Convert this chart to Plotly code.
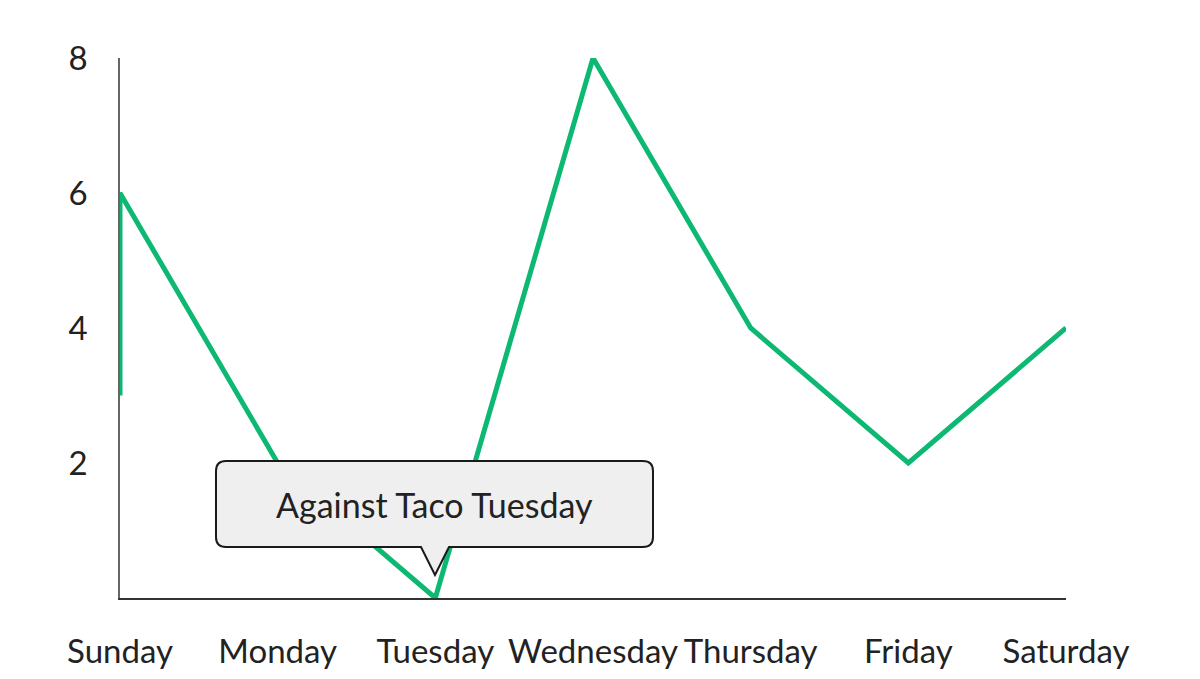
import plotly.graph_objects as go

# datos
days = ["Sunday", "Monday", "Tuesday", "Wednesday", "Thursday", "Friday", "Saturday"]
x_points = ["Sunday", "Sunday", "Monday", "Tuesday", "Wednesday", "Thursday", "Friday", "Saturday"]
y_points = [3, 6, 2, 0, 8, 4, 2, 4]
y_ticks = [2, 4, 6, 8]
note_text = "Against Taco Tuesday"

# la pagina tiene 8px de margen en el body
OFF = 8
W, H = 1200 - OFF, 679 - OFF
L, R, T, B = 120 - OFF, 134, 58 - OFF, 81
FONT = "Lato, Open Sans, sans-serif"


def px(x):
    return (x - OFF - L) / (W - L - R)


def py(y):
    return (OFF + H - B - y) / (H - T - B)


# callout con esquinas redondeadas y pico hacia abajo
x0, x1, y0, y1, r = 216, 653, 461, 547, 10
tip_x, tip_y, half = 435, 575, 14
pts = [
    ("M", x0 + r, y0), ("L", x1 - r, y0), ("Q", x1, y0, x1, y0 + r),
    ("L", x1, y1 - r), ("Q", x1, y1, x1 - r, y1),
    ("L", tip_x + half, y1), ("L", tip_x, tip_y), ("L", tip_x - half, y1),
    ("L", x0 + r, y1), ("Q", x0, y1, x0, y1 - r),
    ("L", x0, y0 + r), ("Q", x0, y0, x0 + r, y0),
]
path = ""
for p in pts:
    cmd, coords = p[0], p[1:]
    vals = []
    for i in range(0, len(coords), 2):
        vals.append(f"{px(coords[i]):.5f},{py(coords[i+1]):.5f}")
    path += cmd + " ".join(vals) + " "
path += "Z"

fig = go.Figure()
fig.add_trace(go.Scatter(
    x=x_points,
    y=y_points,
    mode="lines",
    line=dict(color="#0db872", width=5),
    cliponaxis=False,
    hoverinfo="skip",
))

fig.add_shape(type="path", path=path, xref="paper", yref="paper",
              fillcolor="#efefef", line=dict(color="#1a1a1a", width=2), layer="above")
fig.add_annotation(x=px((x0 + x1) / 2), y=py((y0 + y1) / 2), xref="paper", yref="paper",
                   xanchor="center", yanchor="middle",
                   text=note_text, showarrow=False,
                   font=dict(family=FONT, size=34, color="#222222"))

fig.update_layout(
    width=W, height=H,
    margin=dict(l=L, r=R, t=T, b=B, autoexpand=False),
    plot_bgcolor="white", paper_bgcolor="white",
    showlegend=False,
    font=dict(family=FONT, size=33, color="#222222"),
)
fig.update_xaxes(
    type="category", categoryarray=days, range=[0, 6], automargin=False,
    showgrid=False, zeroline=False, showline=True, linecolor="#333333", linewidth=1.5,
    ticks="", ticklabelstandoff=24,
)
fig.update_yaxes(
    range=[0, 8], tickvals=y_ticks, automargin=False,
    showgrid=False, zeroline=False, showline=True, linecolor="#666666", linewidth=1.5,
    ticks="", ticklabelstandoff=24,
)

fig.write_html("out.html")
